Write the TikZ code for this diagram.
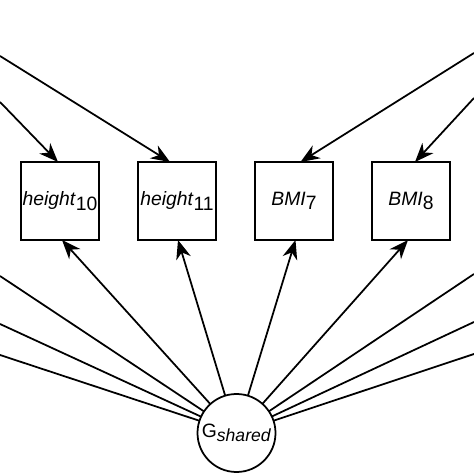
\documentclass[tikz,border=0pt]{standalone}
\usepackage{fontspec}
\setmainfont{Liberation Sans}
\usetikzlibrary{arrows.meta,positioning}
\tikzstyle{line} = [draw, -{Stealth[length=0.38cm, width=0.3cm, inset=0.12cm]}, line width=1pt]
\tikzstyle{plain} = [draw, line width=1pt]
\tikzstyle{square} = [rectangle, draw, line width=1pt, minimum width=1.56cm, minimum height=1.56cm, inner sep=0pt, outer sep=0pt, font=\fontsize{11}{13}\selectfont]
\tikzstyle{round} = [circle, draw, line width=1pt, minimum size=1.56cm, inner sep=0pt, outer sep=0pt, font=\fontsize{10}{12}\selectfont]
\newcommand{\lowsub}[1]{\raisebox{-0.09cm}{#1}}

\begin{document}
\begin{tikzpicture}

\useasboundingbox (0,0) rectangle (9.48,9.48);

\node [square] (height10) at (1.2,5.46) {\textit{height}\lowsub{10}};
\node [square, right=0.78cm of height10] (height11) {\textit{height}\lowsub{11}};
\node [square, right=0.78cm of height11] (bmi7) {\textit{BMI}\lowsub{7}};
\node [square, right=0.78cm of bmi7] (bmi8) {\textit{BMI}\lowsub{8}};

\node [round] (shared) at (4.73,0.82) {{\fontsize{11}{12}\selectfont G}\lowsub{\textit{shared}}};

% free ends at the edges
\coordinate (top1) at (0,7.44);
\coordinate (top2) at (0,8.36);
\coordinate (top3) at (9.48,8.42);
\coordinate (top4) at (9.48,7.52);
\coordinate (left1) at (0,3.96);
\coordinate (left2) at (0,3.0);
\coordinate (left3) at (0,2.38);
\coordinate (right1) at (9.48,4.0);
\coordinate (right2) at (9.48,3.04);
\coordinate (right3) at (9.48,2.4);

\path [line] (top1) -- ([xshift=-0.04cm]height10.north);
\path [line] (top2) -- ([xshift=-0.14cm]height11.north);
\path [line] (top3) -- ([xshift=0.13cm]bmi7.north);
\path [line] (top4) -- ([xshift=0.08cm]bmi8.north);

\path [line] (shared) -- ([xshift=0.04cm]height10.south);
\path [line] (shared) -- ([xshift=0.02cm]height11.south);
\path [line] (shared) -- ([xshift=0.03cm]bmi7.south);
\path [line] (shared) -- ([xshift=-0.06cm]bmi8.south);

\path [plain] (shared) -- (left1);
\path [plain] (shared) -- (left2);
\path [plain] (shared) -- (left3);
\path [plain] (shared) -- (right1);
\path [plain] (shared) -- (right2);
\path [plain] (shared) -- (right3);

\end{tikzpicture}
\end{document}
